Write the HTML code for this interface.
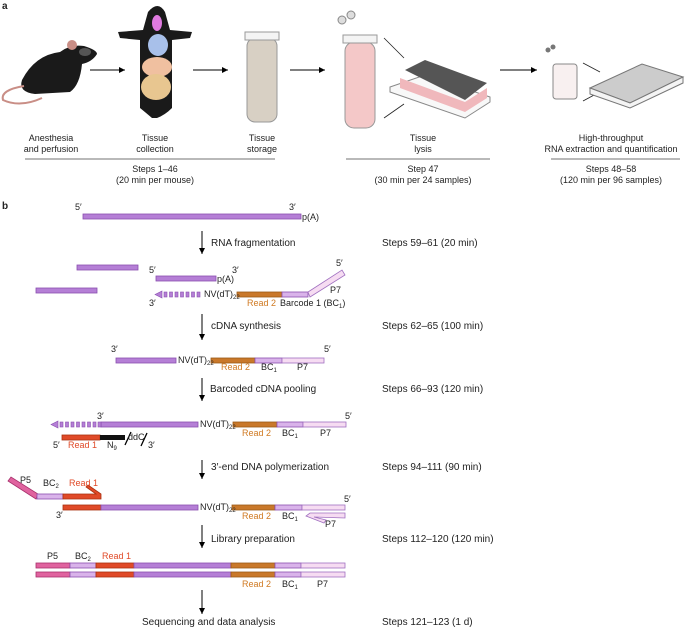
<!DOCTYPE html>
<html><head><style>
html,body{margin:0;padding:0;background:#fff;}
svg{display:block;font-family:"Liberation Sans",sans-serif;}
text{font-size:9px;fill:#222;}
.o{fill:#d07a22;}
.r{fill:#e04a28;}
</style></head><body>
<svg width="685" height="628" viewBox="0 0 685 628" xmlns="http://www.w3.org/2000/svg">
<defs>
<marker id="ah" markerWidth="8" markerHeight="8" refX="6" refY="4" orient="auto" markerUnits="userSpaceOnUse"><path d="M0,1 L6,4 L0,7 z" fill="#000"/></marker>
</defs>
<text x="2" y="9" style="font-weight:bold;font-size:10px">a</text>
<!-- mouse 1 -->
<path d="M22,80 Q35,55 60,52 Q70,44 84,46 Q97,50 97,54 Q92,62 82,64 Q80,85 70,92 L35,94 Q18,92 22,80z" fill="#1a1a1a"/>
<path d="M24,86 Q0,90 3,100 Q20,108 42,98" stroke="#c98e86" stroke-width="2" fill="none"/>
<ellipse cx="72" cy="45" rx="5" ry="5" fill="#c98e86"/>
<ellipse cx="85" cy="52" rx="6" ry="4" fill="#555"/>
<!-- dissected mouse -->
<path d="M148,12 Q158,0 165,12 L170,30 L192,32 L190,38 L172,40 L172,108 Q165,115 157,118 L152,118 Q145,112 140,108 L140,40 L120,38 L118,32 L143,30z" fill="#1a1a1a"/>
<ellipse cx="157" cy="23" rx="5" ry="8" fill="#e07ae0"/>
<ellipse cx="158" cy="45" rx="10" ry="11" fill="#a8c0ea"/>
<ellipse cx="157" cy="67" rx="15" ry="10" fill="#f0c0a0"/>
<ellipse cx="156" cy="87" rx="15" ry="13" fill="#e8c690"/>
<!-- storage tube -->
<rect x="247" y="38" width="30" height="84" rx="8" fill="#d8d0c4" stroke="#999"/>
<rect x="245" y="32" width="34" height="8" fill="#f4f4f4" stroke="#999"/>
<!-- lysis tube -->
<rect x="345" y="42" width="30" height="86" rx="9" fill="#f4c8c8" stroke="#999"/>
<rect x="343" y="35" width="34" height="8" fill="#f4f4f4" stroke="#999"/>
<circle cx="342" cy="20" r="4" fill="#ddd" stroke="#888"/><circle cx="351" cy="15" r="4" fill="#ddd" stroke="#888"/>
<line x1="384" y1="38" x2="404" y2="58" stroke="#222" stroke-width="0.8"/>
<line x1="384" y1="118" x2="404" y2="104" stroke="#222" stroke-width="0.8"/>
<path d="M390,92 L465,118 L490,102 L490,97 L425,75 L390,87z" fill="#f8f8f8" stroke="#888"/>
<path d="M405,70 L425,60 L487,83 L465,100z" fill="#555"/>
<path d="M400,78 L465,102 L487,88 L487,98 L465,112 L400,88z" fill="#f0b8bc"/>
<!-- small tube + plate -->
<rect x="553" y="64" width="24" height="35" rx="3" fill="#f8f0f0" stroke="#888"/>
<circle cx="548" cy="50" r="2.5" fill="#777"/><circle cx="553" cy="47" r="2.5" fill="#777"/>
<line x1="583" y1="63" x2="600" y2="72" stroke="#222" stroke-width="0.8"/>
<line x1="583" y1="101" x2="596" y2="94" stroke="#222" stroke-width="0.8"/>
<path d="M590,88 L630,103 L683,77 L642,64z" fill="#ccc" stroke="#777"/>
<path d="M590,88 L590,94 L630,108 L683,83 L683,77 L630,103z" fill="#f4f4f4" stroke="#777"/>
<!-- arrows a -->
<g stroke="#000" stroke-width="1" marker-end="url(#ah)">
<line x1="90" y1="70" x2="125" y2="70"/><line x1="193" y1="70" x2="228" y2="70"/>
<line x1="290" y1="70" x2="325" y2="70"/><line x1="500" y1="70" x2="537" y2="70"/>
</g>
<g text-anchor="middle">
<text x="51" y="141">Anesthesia</text><text x="51" y="152">and perfusion</text>
<text x="155" y="141">Tissue</text><text x="155" y="152">collection</text>
<text x="262" y="141">Tissue</text><text x="262" y="152">storage</text>
<text x="423" y="141">Tissue</text><text x="423" y="152">lysis</text>
<text x="611" y="141">High-throughput</text><text x="611" y="152">RNA extraction and quantification</text>
<text x="155" y="172">Steps 1–46</text><text x="155" y="183">(20 min per mouse)</text>
<text x="423" y="172">Step 47</text><text x="423" y="183">(30 min per 24 samples)</text>
<text x="611" y="172">Steps 48–58</text><text x="611" y="183">(120 min per 96 samples)</text>
</g>
<g stroke="#444" stroke-width="0.8">
<line x1="25" y1="159" x2="275" y2="159"/><line x1="346" y1="159" x2="490" y2="159"/><line x1="551" y1="159" x2="680" y2="159"/>
</g>
<text x="2" y="209" style="font-weight:bold;font-size:10px">b</text>
<g stroke-width="0.8">
<rect x="83" y="214" width="218" height="5" fill="#b57fd6" stroke="#8a4fb0"/>
<rect x="77" y="265" width="61" height="5" fill="#b57fd6" stroke="#8a4fb0"/>
<rect x="36" y="288" width="61" height="5" fill="#b57fd6" stroke="#8a4fb0"/>
<rect x="156" y="276" width="60" height="5" fill="#b57fd6" stroke="#8a4fb0"/>
<rect x="237" y="292" width="45" height="5" fill="#c9782a" stroke="#9a5a18"/>
<rect x="282" y="292" width="26" height="5" fill="#d9b3ea" stroke="#8a4fb0"/>
<path d="M308,292 L342,270 L345,275 L310,297z" fill="#f6dcf2" stroke="#a070c0"/>
<rect x="116" y="358" width="60" height="5" fill="#b57fd6" stroke="#8a4fb0"/>
<rect x="211" y="358" width="44" height="5" fill="#c9782a" stroke="#9a5a18"/>
<rect x="255" y="358" width="27" height="5" fill="#d9b3ea" stroke="#8a4fb0"/>
<rect x="282" y="358" width="42" height="5" fill="#f6dcf2" stroke="#a070c0"/>
<rect x="101" y="422" width="97" height="5" fill="#b57fd6" stroke="#8a4fb0"/>
<rect x="233" y="422" width="44" height="5" fill="#c9782a" stroke="#9a5a18"/>
<rect x="277" y="422" width="26" height="5" fill="#d9b3ea" stroke="#8a4fb0"/>
<rect x="303" y="422" width="43" height="5" fill="#f6dcf2" stroke="#a070c0"/>
<rect x="62" y="435" width="38" height="5" fill="#e04a28" stroke="#a83010"/>
<rect x="100" y="435" width="25" height="5" fill="#111"/>
<path d="M8,481 L11,477 L38,494 L36,499z" fill="#e0639f" stroke="#a8306c"/>
<rect x="37" y="494" width="26" height="5" fill="#d9b3ea" stroke="#8a4fb0"/>
<path d="M63,494 L96,494 L86,487 L88,485 L101,494 L101,499 L63,499z" fill="#e04a28" stroke="#a83010"/>
<rect x="63" y="505" width="38" height="5" fill="#e04a28" stroke="#a83010"/>
<rect x="101" y="505" width="97" height="5" fill="#b57fd6" stroke="#8a4fb0"/>
<rect x="232" y="505" width="43" height="5" fill="#c9782a" stroke="#9a5a18"/>
<rect x="275" y="505" width="27" height="5" fill="#d9b3ea" stroke="#8a4fb0"/>
<rect x="302" y="505" width="43" height="5" fill="#f6dcf2" stroke="#a070c0"/>
<path d="M345,513 L310,513 L306,516 L324,523 L326,520 L314,517 L345,518z" fill="#f6dcf2" stroke="#a070c0"/>
<rect x="36" y="563" width="34" height="5" fill="#e0639f" stroke="#a8306c"/>
<rect x="70" y="563" width="26" height="5" fill="#d9b3ea" stroke="#8a4fb0"/>
<rect x="96" y="563" width="38" height="5" fill="#e04a28" stroke="#a83010"/>
<rect x="134" y="563" width="97" height="5" fill="#b57fd6" stroke="#8a4fb0"/>
<rect x="231" y="563" width="44" height="5" fill="#c9782a" stroke="#9a5a18"/>
<rect x="275" y="563" width="26" height="5" fill="#d9b3ea" stroke="#8a4fb0"/>
<rect x="301" y="563" width="44" height="5" fill="#f6dcf2" stroke="#a070c0"/>
<rect x="36" y="572" width="34" height="5" fill="#e0639f" stroke="#a8306c"/>
<rect x="70" y="572" width="26" height="5" fill="#d9b3ea" stroke="#8a4fb0"/>
<rect x="96" y="572" width="38" height="5" fill="#e04a28" stroke="#a83010"/>
<rect x="134" y="572" width="97" height="5" fill="#b57fd6" stroke="#8a4fb0"/>
<rect x="231" y="572" width="44" height="5" fill="#c9782a" stroke="#9a5a18"/>
<rect x="275" y="572" width="26" height="5" fill="#d9b3ea" stroke="#8a4fb0"/>
<rect x="301" y="572" width="44" height="5" fill="#f6dcf2" stroke="#a070c0"/>
</g>
<g fill="#b57fd6" stroke="#8a4fb0" stroke-width="0.6">
<path d="M155,294.5 L162,291 L162,298z"/>
<rect x="164" y="292" width="3" height="5"/><rect x="169.5" y="292" width="3" height="5"/><rect x="175" y="292" width="3" height="5"/><rect x="180.5" y="292" width="3" height="5"/><rect x="186" y="292" width="3" height="5"/><rect x="191.5" y="292" width="3" height="5"/><rect x="197" y="292" width="3" height="5"/>
<path d="M51,424.5 L58,421 L58,428z"/>
<rect x="60" y="422" width="3" height="5"/><rect x="65.5" y="422" width="3" height="5"/><rect x="71" y="422" width="3" height="5"/><rect x="76.5" y="422" width="3" height="5"/><rect x="82" y="422" width="3" height="5"/><rect x="87.5" y="422" width="3" height="5"/><rect x="93" y="422" width="3" height="5"/><rect x="98" y="422" width="3" height="5"/>
</g>
<g stroke="#000" stroke-width="1.3"><line x1="125" y1="445" x2="131" y2="432"/><line x1="141" y1="446" x2="147" y2="433"/></g>
<g stroke="#000" stroke-width="1" marker-end="url(#ah)">
<line x1="202" y1="231" x2="202" y2="254"/><line x1="202" y1="314" x2="202" y2="340"/>
<line x1="202" y1="378" x2="202" y2="401"/><line x1="202" y1="460" x2="202" y2="479"/>
<line x1="202" y1="525" x2="202" y2="548"/><line x1="202" y1="590" x2="202" y2="614"/>
</g>
<text x="211" y="246" style="font-size:10px">RNA fragmentation</text>
<text x="211" y="329" style="font-size:10px">cDNA synthesis</text>
<text x="210" y="392" style="font-size:10px">Barcoded cDNA pooling</text>
<text x="211" y="470" style="font-size:10px">3′-end DNA polymerization</text>
<text x="211" y="542" style="font-size:10px">Library preparation</text>
<text x="142" y="625" style="font-size:10px">Sequencing and data analysis</text>
<text x="382" y="246" style="font-size:10px">Steps 59–61 (20 min)</text>
<text x="382" y="329" style="font-size:10px">Steps 62–65 (100 min)</text>
<text x="382" y="392" style="font-size:10px">Steps 66–93 (120 min)</text>
<text x="382" y="470" style="font-size:10px">Steps 94–111 (90 min)</text>
<text x="382" y="542" style="font-size:10px">Steps 112–120 (120 min)</text>
<text x="382" y="625" style="font-size:10px">Steps 121–123 (1 d)</text>
<text x="75" y="210">5′</text><text x="289" y="210">3′</text><text x="302" y="220">p(A)</text>
<text x="149" y="273">5′</text><text x="232" y="273">3′</text><text x="217" y="282">p(A)</text>
<text x="336" y="266">5′</text><text x="330" y="293">P7</text>
<text x="149" y="306">3′</text><text x="204" y="297">NV(dT)<tspan font-size="6" dy="2">22</tspan></text>
<text x="247" y="306" class="o">Read 2</text><text x="280" y="306">Barcode 1 (BC<tspan font-size="6" dy="2">1</tspan><tspan dy="-2">)</tspan></text>
<text x="111" y="352">3′</text><text x="324" y="352">5′</text><text x="178" y="363">NV(dT)<tspan font-size="6" dy="2">22</tspan></text>
<text x="221" y="370" class="o">Read 2</text><text x="261" y="370">BC<tspan font-size="6" dy="2">1</tspan></text><text x="297" y="370">P7</text>
<text x="97" y="419">3′</text><text x="345" y="419">5′</text><text x="200" y="427">NV(dT)<tspan font-size="6" dy="2">22</tspan></text>
<text x="242" y="436" class="o">Read 2</text><text x="282" y="436">BC<tspan font-size="6" dy="2">1</tspan></text><text x="320" y="436">P7</text>
<text x="53" y="448">5′</text><text x="68" y="448" class="r">Read 1</text><text x="107" y="448">N<tspan font-size="6" dy="2">9</tspan></text>
<text x="128" y="440">ddC</text><text x="148" y="448">3′</text>
<text x="20" y="483">P5</text><text x="43" y="486">BC<tspan font-size="6" dy="2">2</tspan></text><text x="69" y="486" class="r">Read 1</text>
<text x="56" y="518">3′</text><text x="344" y="502">5′</text><text x="200" y="510">NV(dT)<tspan font-size="6" dy="2">22</tspan></text>
<text x="242" y="519" class="o">Read 2</text><text x="282" y="519">BC<tspan font-size="6" dy="2">1</tspan></text><text x="325" y="527">P7</text>
<text x="47" y="559">P5</text><text x="75" y="559">BC<tspan font-size="6" dy="2">2</tspan></text><text x="102" y="559" class="r">Read 1</text>
<text x="242" y="587" class="o">Read 2</text><text x="282" y="587">BC<tspan font-size="6" dy="2">1</tspan></text><text x="317" y="587">P7</text>
</svg>
</body></html>
